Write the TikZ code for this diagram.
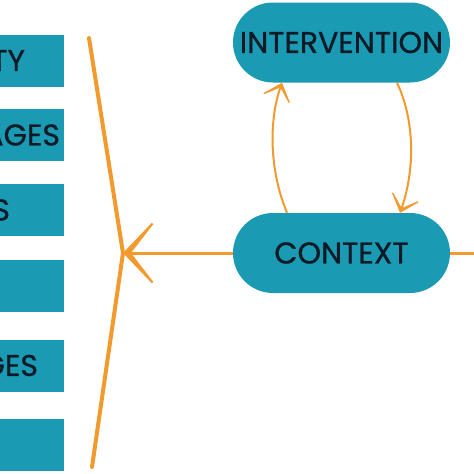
\documentclass[tikz,border=0pt]{standalone}
\usepackage{fontspec}
\setmainfont{Poppins}
\newfontfamily\boxfont{Poppins}[FakeBold=0.8]
\usetikzlibrary{arrows.meta}
\definecolor{tealbox}{HTML}{1B9AB4}
\definecolor{orng}{HTML}{F29A2E}
\definecolor{ink}{HTML}{0E1A26}

\tikzset{
  oval/.style={fill=tealbox,rounded corners=40pt,minimum width=217pt,minimum height=80pt,
    inner sep=0pt,text=ink,font=\boxfont\fontsize{30}{30}\selectfont},
  leftbox/.style={fill=tealbox,minimum width=80pt,minimum height=52pt,inner sep=0pt},
  lbl/.style={text=ink,inner sep=0pt,font=\boxfont\fontsize{30}{30}\selectfont},
  link/.style={draw=orng,line width=2pt},
  bigarrow/.style={-{Stealth[length=42pt,width=88pt,inset=34pt]}},
  smallarrow/.style={-{Stealth[length=24pt,width=42pt,inset=19pt]}}
}

\begin{document}
\begin{tikzpicture}[x=1pt,y=-1pt]
    \useasboundingbox (0,0) rectangle (474,474);
    \node[oval] (intervention) at (341.5,42.5) {INTERVENTION};
    \node[oval] (context) at (341.5,253) {CONTEXT};
    \foreach \y [count=\i] in {60.5,135,210,286,365.5,444.5}
      \node[leftbox] (box\i) at (24,\y) {};
    \foreach \n/\t/\r in {1/TY/25,2/AGES/60,3/S/10,5/GES/38}
      \node[lbl,anchor=east] at ([xshift={(\r-64)*1pt}]box\n.east) {\t};
    \coordinate (top) at (89,38);
    \coordinate (tip) at (123,253);
    \coordinate (bottom) at (92,467);
    \coordinate (edge) at (474,253);
    \draw[orng,line width=4pt,line cap=round] (top) -- (tip) -- (bottom);
    \draw[link,line width=3pt,bigarrow] (context.west) -- (tip);
    \draw[link,line width=3pt] (context.east) -- (edge);
    \draw[link,smallarrow] ([xshift=-54.5pt]context.north)
      .. controls +(-18,-43) and +(-13,37) .. ([xshift=-59.5pt]intervention.south);
    \draw[link,smallarrow] ([xshift=55.5pt]intervention.south)
      .. controls +(18,38) and +(15,-43) .. ([xshift=58.5pt]context.north);
  \end{tikzpicture}
\end{document}
